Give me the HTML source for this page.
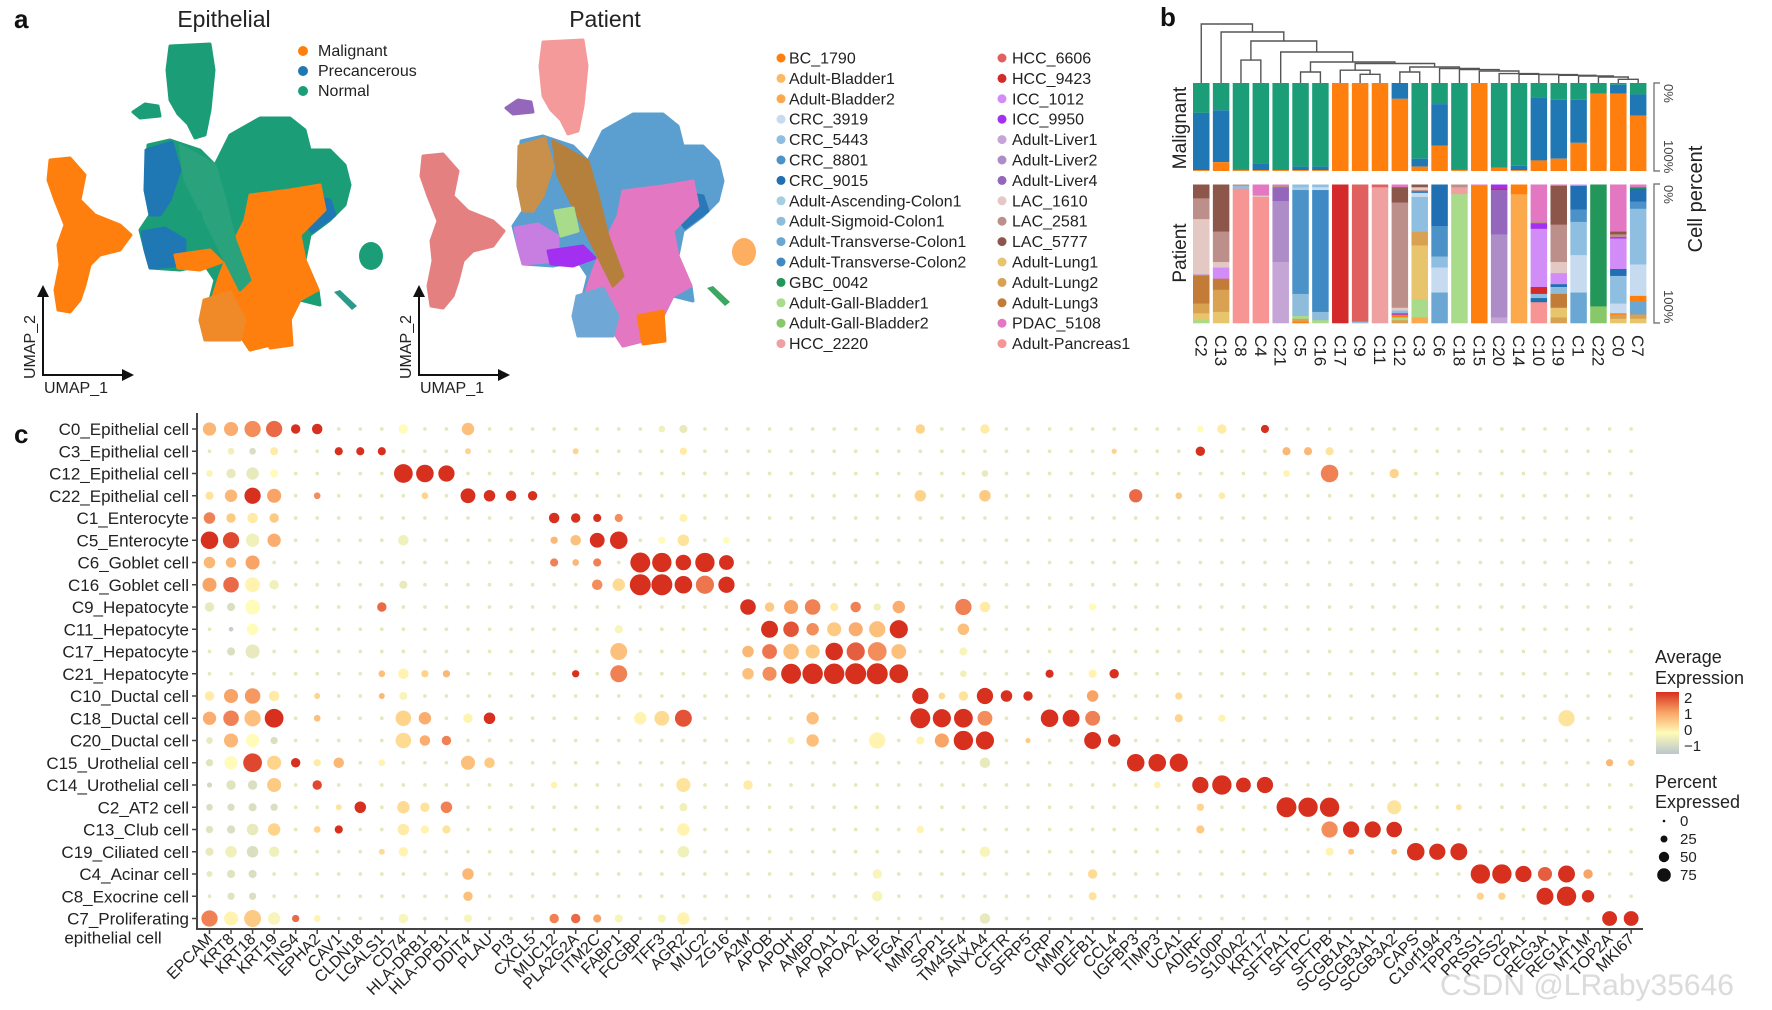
<!DOCTYPE html>
<html><head><meta charset="utf-8">
<style>
html,body{margin:0;padding:0;background:#fff;}
svg{display:block;font-family:"Liberation Sans",Arial,sans-serif;}
</style></head>
<body>
<svg id="fig" width="1772" height="1010" viewBox="0 0 1772 1010" xmlns="http://www.w3.org/2000/svg">
<g id="panelA">
<text x="14" y="28" font-size="26" font-weight="bold" fill="#111">a</text>
<text x="224" y="27" font-size="23" text-anchor="middle" fill="#222">Epithelial</text>
<text x="605" y="27" font-size="23" text-anchor="middle" fill="#222">Patient</text>
<g id="umapE"></g>
<g id="umapP"></g>
<g font-size="16" fill="#222">
<circle cx="303" cy="51" r="5" fill="#ff7f0e"/><text x="318" y="56">Malignant</text>
<circle cx="303" cy="71" r="5" fill="#1f77b4"/><text x="318" y="76">Precancerous</text>
<circle cx="303" cy="91" r="5" fill="#1b9e77"/><text x="318" y="96">Normal</text>
</g>
<g stroke="#111" stroke-width="2" fill="#111">
<line x1="43" y1="375" x2="43" y2="295"/><polygon points="37,297 49,297 43,285" stroke="none"/>
<line x1="42" y1="375" x2="124" y2="375"/><polygon points="122,369 122,381 134,375" stroke="none"/>
</g>
<text transform="translate(35,347) rotate(-90)" font-size="16" text-anchor="middle" fill="#222">UMAP_2</text>
<text x="44" y="393" font-size="16" fill="#222">UMAP_1</text>
<g stroke="#111" stroke-width="2" fill="#111">
<line x1="419" y1="375" x2="419" y2="295"/><polygon points="413,297 425,297 419,285" stroke="none"/>
<line x1="418" y1="375" x2="500" y2="375"/><polygon points="498,369 498,381 510,375" stroke="none"/>
</g>
<text transform="translate(411,347) rotate(-90)" font-size="16" text-anchor="middle" fill="#222">UMAP_2</text>
<text x="420" y="393" font-size="16" fill="#222">UMAP_1</text>
<g id="patLegend" font-size="16" fill="#222"></g>
</g>
<g id="panelB">
<text x="1160" y="26" font-size="26" font-weight="bold" fill="#111">b</text>
<text transform="translate(1186,128) rotate(-90)" font-size="19" text-anchor="middle" fill="#222">Malignant</text>
<text transform="translate(1186,253) rotate(-90)" font-size="19" text-anchor="middle" fill="#222">Patient</text>
<text transform="translate(1702,199) rotate(-90)" font-size="20" text-anchor="middle" fill="#222">Cell percent</text>
<g id="dendro" stroke="#555" stroke-width="1.4" fill="none"></g>
<g id="barsB"></g>
<g stroke="#666" stroke-width="1.2" fill="none">
<path d="M1660,83 H1654 V171 H1660"/><path d="M1660,184 H1654 V323 H1660"/>
</g>
<g font-size="13" fill="#444">
<text transform="translate(1664,84) rotate(90)">0%</text>
<text transform="translate(1664,140) rotate(90)">100%</text>
<text transform="translate(1664,185) rotate(90)">0%</text>
<text transform="translate(1664,290) rotate(90)">100%</text>
</g>
</g>
<g id="panelC">
<text x="14" y="443" font-size="26" font-weight="bold" fill="#111">c</text>
<g id="dots"></g>
<g>
<text x="1655" y="663" font-size="18" fill="#222">Average</text>
<text x="1655" y="684" font-size="18" fill="#222">Expression</text>
<defs><linearGradient id="cg" x1="0" y1="0" x2="0" y2="1">
<stop offset="0" stop-color="#d7301f"/><stop offset="0.33" stop-color="#f9a467"/><stop offset="0.66" stop-color="#fffbb8"/><stop offset="1" stop-color="#b9c6cd"/></linearGradient></defs>
<rect x="1656" y="692" width="23" height="62" fill="url(#cg)"/>
<g font-size="15" fill="#222"><text x="1684" y="703">2</text><text x="1684" y="719">1</text><text x="1684" y="735">0</text><text x="1684" y="751">−1</text></g>
</g>
<g fill="#111">
<text x="1655" y="788" font-size="18" fill="#222">Percent</text>
<text x="1655" y="808" font-size="18" fill="#222">Expressed</text>
<circle cx="1664" cy="821" r="1.3"/><circle cx="1664" cy="839" r="3.5"/><circle cx="1664" cy="857" r="5.2"/><circle cx="1664" cy="875" r="6.8"/>
<g font-size="15" fill="#222"><text x="1680" y="826">0</text><text x="1680" y="844">25</text><text x="1680" y="862">50</text><text x="1680" y="880">75</text></g>
</g>
</g>
<text x="1440" y="995" font-size="30" fill="#ccc" fill-opacity="0.7">CSDN @LRaby35646</text>
</svg>
<script>
// ---------- Panel B data ----------
const clusterOrder = ["C2","C13","C8","C4","C21","C5","C16","C17","C9","C11","C12","C3","C6","C18","C15","C20","C14","C10","C19","C1","C22","C0","C7"];
const statusColors = ["#1b9e77","#1f77b4","#ff7f0e"]; // normal, precancerous, malignant
const normalFrac =     [.34,.31,.98,.92,.99,.95,.95,0,0,0,0,.86,.24,.98,0,.96,.94,.17,.19,.19,.12,.02,.13];
const precancerFrac =  [.65,.59,.01,.07,0,.04,.04,0,0,0,.18,.09,.47,.01,0,0,.05,.71,.67,.49,0,.10,.24];
const malignantFrac =  [.01,.10,.01,.01,.01,.01,.01,1,1,1,.82,.05,.29,.01,1,.04,.01,.12,.14,.32,.88,.88,.63];
const patients = ["BC_1790","Adult-Bladder1","Adult-Bladder2","CRC_3919","CRC_5443","CRC_8801","CRC_9015","Adult-Ascending-Colon1","Adult-Sigmoid-Colon1","Adult-Transverse-Colon1","Adult-Transverse-Colon2","GBC_0042","Adult-Gall-Bladder1","Adult-Gall-Bladder2","HCC_2220",
"HCC_6606","HCC_9423","ICC_1012","ICC_9950","Adult-Liver1","Adult-Liver2","Adult-Liver4","LAC_1610","LAC_2581","LAC_5777","Adult-Lung1","Adult-Lung2","Adult-Lung3","PDAC_5108","Adult-Pancreas1"];
const patientColors = ["#ff7f0e","#fdb863","#fca84d","#c6dbef","#8fbfe0","#4a92c8","#1f6fb2","#a6cee3","#8ebcdb","#6aa8d3","#3f8ac4","#23965a","#a8db8a","#86c86a","#efa0a0",
"#e06060","#d42a2a","#d28cf8","#a330f0","#c5a5d5","#ad8cc8","#9467bd","#e3c8c3","#bc8f8a","#8c564b","#e8c46c","#d9a252","#c27c38","#e377c2","#f79494"];
// per-cluster patient composition, top to bottom: [patientIndex, fraction]
const patientComp = [
 [[24,.1],[23,.15],[22,.4],[20,.01],[27,.2],[26,.07],[25,.05],[12,.02]],
 [[24,.34],[23,.22],[22,.04],[17,.08],[27,.08],[26,.16],[25,.08]],
 [[23,.01],[4,.02],[29,.97]],
 [[28,.08],[22,.01],[29,.91]],
 [[28,.01],[23,.01],[21,.1],[20,.44],[19,.44]],
 [[4,.02],[7,.02],[5,.75],[8,.16],[12,.02],[26,.02],[0,.01]],
 [[4,.02],[3,.02],[10,.88],[8,.06],[12,.02]],
 [[16,1]],
 [[15,.99],[8,.01]],
 [[15,.02],[14,.98]],
 [[28,.02],[24,.11],[23,.76],[22,.02],[4,.02],[18,.01],[0,.02],[12,.02],[26,.02]],
 [[24,.02],[22,.02],[23,.01],[6,.01],[3,.03],[4,.25],[26,.1],[25,.39],[12,.13],[2,.04]],
 [[6,.3],[5,.22],[4,.08],[3,.18],[9,.22]],
 [[23,.02],[14,.05],[12,.93]],
 [[28,.01],[0,.99]],
 [[18,.03],[16,.01],[21,.32],[20,.6],[19,.04]],
 [[0,.07],[2,.93]],
 [[28,.27],[23,.01],[18,.04],[17,.42],[16,.05],[4,.03],[6,.03],[29,.15]],
 [[28,.01],[24,.28],[23,.27],[22,.08],[17,.08],[6,.02],[8,.05],[27,.1],[25,.07],[26,.04]],
 [[17,.01],[6,.17],[5,.09],[4,.24],[3,.27],[9,.22]],
 [[11,.88],[13,.12]],
 [[28,.34],[24,.02],[23,.02],[18,.01],[17,.22],[6,.05],[4,.2],[3,.07],[0,.01],[26,.03],[25,.03]],
 [[28,.02],[11,.01],[6,.09],[5,.05],[4,.39],[3,.22],[0,.04],[9,.09],[26,.03],[25,.03]]
];
// dendrogram merges: [leftNode, rightNode, height]; leaves are 0..22
const dendroMerges = [[5,6,11],[8,9,8.7],[7,24,12.8],[10,11,11],[2,3,22.9],[21,22,3.7],[20,28,6],[19,29,7],[18,30,7.7],[17,31,8.4],[16,32,8.7],[15,33,9.4],[14,34,12],[13,35,13.4],[12,36,14.5],[26,37,16],[25,38,19.5],[23,39,21],[4,40,31],[27,41,42],[1,42,51],[0,43,59]];

// ---------- Panel C data ----------
const cellTypes = ["C0_Epithelial cell","C3_Epithelial cell","C12_Epithelial cell","C22_Epithelial cell","C1_Enterocyte","C5_Enterocyte","C6_Goblet cell","C16_Goblet cell","C9_Hepatocyte","C11_Hepatocyte","C17_Hepatocyte","C21_Hepatocyte","C10_Ductal cell","C18_Ductal cell","C20_Ductal cell","C15_Urothelial cell","C14_Urothelial cell","C2_AT2 cell","C13_Club cell","C19_Ciliated cell","C4_Acinar cell","C8_Exocrine cell","C7_Proliferating"];
const genes = ["EPCAM","KRT8","KRT18","KRT19","TNS4","EPHA2","CAV1","CLDN18","LGALS1","CD74","HLA-DRB1","HLA-DPB1","DDIT4","PLAU","PI3","CXCL5","MUC12","PLA2G2A","ITM2C","FABP1","FCGBP","TFF3","AGR2","MUC2","ZG16","A2M","APOB","APOH","AMBP","APOA1","APOA2","ALB","FGA","MMP7","SPP1","TM4SF4","ANXA4","CFTR","SFRP5","CRP","MMP1","DEFB1","CCL4","IGFBP3","TIMP3","UCA1","ADIRF","S100P","S100A2","KRT17","SFTPA1","SFTPC","SFTPB","SCGB1A1","SCGB3A1","SCGB3A2","CAPS","C1orf194","TPPP3","PRSS1","PRSS2","CPA1","REG3A","REG1A","MT1M","TOP2A","MKI67"];
const baseExpr = 0.1, basePct = 3;
// notable dots: [rowIndex, geneIndex, avgExpression, percentExpressed]
const dotValues = [
[0,0,.8,40],[0,1,.9,45],[0,2,1.2,60],[0,3,1.5,60],[0,4,2,20],[0,5,2,25],[0,9,0,20],[0,12,.7,35],[0,21,-.2,10],[0,22,-.3,15],[0,33,.5,20],[0,36,.2,20],[0,46,0,10],[0,47,.2,20],[0,49,2,15],
[1,1,-.2,10],[1,2,-.5,10],[1,3,.2,15],[1,6,2,15],[1,7,2,15],[1,8,2,15],[1,12,.5,8],[1,17,.5,8],[1,22,.2,12],[1,42,.5,6],[1,46,2,20],[1,50,.8,15],[1,51,.8,15],[1,52,.3,15],
[2,0,-.1,10],[2,1,-.3,20],[2,2,-.3,35],[2,3,0,15],[2,9,2,80],[2,10,2,70],[2,11,2,60],[2,36,-.3,10],[2,50,.1,10],[2,52,1.3,70],[2,55,.5,20],
[3,0,.3,15],[3,1,.8,35],[3,2,2,60],[3,3,1,45],[3,5,1.2,10],[3,10,.5,10],[3,12,2,50],[3,13,2,30],[3,14,2,25],[3,15,2,20],[3,33,.5,30],[3,36,.6,30],[3,43,1.5,40],[3,45,.6,10],[3,47,.2,10],
[4,0,1.3,30],[4,1,.6,20],[4,2,.2,25],[4,3,.6,20],[4,16,2,25],[4,17,2,20],[4,18,2,15],[4,19,1.2,15],[4,22,.1,15],
[5,0,2,70],[5,1,1.8,60],[5,2,-.2,40],[5,3,.9,40],[5,9,-.2,25],[5,16,.8,12],[5,17,.7,25],[5,18,2,50],[5,19,2,70],[5,21,0,12],[5,22,.3,30],[5,24,0,10],
[6,0,.8,30],[6,1,.8,25],[6,2,1,45],[6,16,1.3,15],[6,17,.8,10],[6,18,1.3,15],[6,20,2,90],[6,21,2,85],[6,22,2,55],[6,23,2,85],[6,24,2,50],
[7,0,1,45],[7,1,1.5,55],[7,2,.1,50],[7,3,-.2,20],[7,9,-.3,15],[7,18,1.2,25],[7,19,.4,35],[7,20,2,100],[7,21,2,100],[7,22,2,70],[7,23,1.4,75],[7,24,2,60],
[8,0,-.3,20],[8,1,-.5,15],[8,2,0,50],[8,8,1.5,20],[8,25,2,55],[8,26,.6,20],[8,27,1,45],[8,28,1.3,55],[8,29,.2,15],[8,30,1.3,25],[8,31,-.2,12],[8,32,.9,35],[8,35,1.3,60],[8,36,.2,25],[8,41,0,12],
[9,1,-.8,5],[9,2,0,30],[9,19,-.1,15],[9,26,2,65],[9,27,1.7,55],[9,28,1.2,35],[9,29,.6,45],[9,30,.9,45],[9,31,.7,60],[9,32,2,75],[9,35,.7,30],
[10,1,-.5,15],[10,2,-.3,45],[10,19,.7,65],[10,25,.8,30],[10,26,1.4,50],[10,27,.7,55],[10,28,.6,45],[10,29,2,70],[10,30,1.6,75],[10,31,1.2,80],[10,32,.7,50],[10,35,-.1,15],
[11,8,.7,10],[11,9,.1,25],[11,10,.5,12],[11,11,.8,12],[11,17,2,12],[11,19,1.3,65],[11,25,.7,30],[11,26,1.2,45],[11,27,2,90],[11,28,2,95],[11,29,2,95],[11,30,2,100],[11,31,2,100],[11,32,2,80],[11,35,-.2,10],[11,39,2,15],[11,41,.1,15],[11,42,2,20],
[12,0,.2,20],[12,1,1,45],[12,2,1.1,55],[12,3,.2,25],[12,5,.5,8],[12,8,.8,8],[12,9,-.1,15],[12,33,2,60],[12,34,.4,10],[12,35,.3,20],[12,36,2,60],[12,37,2,30],[12,38,2,20],[12,41,1,30],[12,45,.4,12],
[13,0,.9,40],[13,1,1.3,55],[13,2,.7,60],[13,3,2,80],[13,5,.7,10],[13,9,.5,55],[13,10,.9,35],[13,12,.1,20],[13,13,2,30],[13,20,.1,35],[13,21,.4,50],[13,22,1.7,65],[13,28,.7,35],[13,33,2,90],[13,34,2,75],[13,35,2,80],[13,36,1.2,50],[13,39,2,70],[13,40,2,65],[13,41,1.3,50],[13,45,.5,15],[13,47,.1,12],[13,63,.3,60],
[14,0,-.3,10],[14,1,.8,45],[14,2,0,40],[14,3,-.5,12],[14,9,.4,55],[14,10,.9,25],[14,11,1.3,20],[14,27,-.1,12],[14,28,.7,35],[14,31,.1,60],[14,33,.1,15],[14,34,1,45],[14,35,2,85],[14,36,2,75],[14,38,.6,6],[14,41,2,65],[14,42,2,35],
[15,0,-.4,12],[15,1,0,40],[15,2,1.8,80],[15,3,.5,45],[15,4,2,20],[15,5,.2,12],[15,6,.8,25],[15,8,.1,10],[15,12,.7,45],[15,13,.6,25],[15,36,-.3,25],[15,43,2,70],[15,44,2,70],[15,45,2,75],[15,65,.8,12],[15,66,.5,10],
[16,0,-.6,6],[16,1,-.4,20],[16,2,-.5,20],[16,3,.6,45],[16,5,1.8,20],[16,16,.1,10],[16,22,.3,45],[16,25,.2,20],[16,44,.1,10],[16,46,2,60],[16,47,2,85],[16,48,2,50],[16,49,2,60],
[17,0,-.5,10],[17,1,-.5,12],[17,2,-.5,15],[17,3,-.5,12],[17,6,.3,8],[17,7,2,30],[17,9,.4,35],[17,10,.3,20],[17,11,1.3,30],[17,22,-.2,15],[17,46,.5,12],[17,50,2,90],[17,51,2,85],[17,52,2,85],[17,55,.3,45],[17,58,.3,8],
[18,0,-.4,12],[18,1,-.5,15],[18,2,-.3,30],[18,3,.5,35],[18,5,.5,10],[18,6,2,15],[18,9,.2,30],[18,10,.1,15],[18,11,.3,15],[18,22,.1,35],[18,33,.1,12],[18,46,.6,15],[18,52,1.2,60],[18,53,2,60],[18,54,2,60],[18,55,2,55],
[19,0,-.3,15],[19,1,-.2,30],[19,2,-.5,30],[19,3,-.2,25],[19,8,.4,8],[19,9,.1,20],[19,22,-.2,30],[19,36,-.1,25],[19,52,.1,15],[19,53,.6,8],[19,55,.6,8],[19,56,2,70],[19,57,2,60],[19,58,2,65],
[20,0,-.3,8],[20,1,-.4,15],[20,2,-.5,15],[20,12,.8,30],[20,31,-.1,20],[20,41,.4,20],[20,59,2,85],[20,60,2,85],[20,61,2,60],[20,62,1.6,45],[20,63,2,65],[20,64,1,20],
[21,1,-.4,12],[21,2,-.5,12],[21,12,.7,20],[21,31,-.1,25],[21,41,.3,15],[21,59,.5,12],[21,60,.5,12],[21,62,2,65],[21,63,2,85],[21,64,2,35],
[22,0,1.3,60],[22,1,.1,45],[22,2,.6,65],[22,3,-.1,35],[22,4,1.5,12],[22,5,.1,10],[22,9,-.1,20],[22,12,-.1,15],[22,16,1.3,20],[22,17,1.5,20],[22,18,1,15],[22,19,-.1,15],[22,21,-.1,15],[22,22,.1,35],[22,36,-.3,25],[22,65,2,50],[22,66,2,50]
];

const NS="http://www.w3.org/2000/svg";
function mk(tag, attrs, parent){const e=document.createElementNS(NS,tag);for(const k in attrs)e.setAttribute(k,attrs[k]);parent.appendChild(e);return e;}

// ---------- UMAP shapes (decorative blobs) ----------
const umapShapes = [
 {pts:"170,46 210,44 214,70 210,110 205,135 195,138 188,124 178,114 170,100 167,70", e:"#1b9e77", p:"#f49a9a"},
 {pts:"133,112 145,104 158,106 160,116 140,118", e:"#1b9e77", p:"#9467bd"},
 {pts:"50,160 70,158 85,175 80,200 95,215 120,225 131,235 120,250 100,255 90,265 85,285 80,300 70,312 58,310 55,290 60,265 58,245 65,225 55,200 48,180", e:"#ff7f0e", p:"#e58080"},
 {pts:"148,145 170,140 200,150 215,165 230,135 260,118 290,118 305,130 310,150 330,150 345,165 350,185 345,205 330,220 310,235 305,260 318,290 320,305 300,300 290,320 270,345 250,350 240,335 205,340 200,320 210,300 215,280 205,265 180,270 150,268 145,250 140,230 150,215 145,190", e:"#1b9e77", p:"#5a9fd0"},
 {pts:"146,150 172,142 180,170 170,200 160,215 150,215 145,190", e:"#1f77b4", p:"#c8904a"},
 {pts:"142,232 165,228 185,240 185,265 150,268 145,250", e:"#1f77b4", p:"#c77ee0"},
 {pts:"300,195 330,200 335,215 312,232 300,215", e:"#1f77b4", p:"#2a78b8"},
 {pts:"250,195 290,190 320,185 325,210 300,235 305,260 318,290 300,300 290,320 270,345 250,350 240,335 212,338 204,320 212,300 220,275 230,250 245,220", e:"#ff7f0e", p:"#e377c2"},
 {pts:"175,255 210,250 222,262 200,270 178,268", e:"#ff7f0e", p:"#a330f0"},
 {pts:"204,300 230,292 245,320 240,340 205,340 200,320", e:"#f08a28", p:"#6fa8d6"},
 {pts:"180,145 215,165 225,200 235,240 250,280 240,290 220,250 200,210 185,180", e:"#2aa37c", p:"#b5803c"},
 {pts:"182,215 200,212 205,235 188,240", e:"#1b9e77", p:"#a8db8a"},
 {pts:"265,320 290,315 292,345 270,348", e:"#ff7f0e", p:"#ff7f0e"}
];
function drawUmap(g, dx, dy, key){
 umapShapes.forEach((s,i)=>{
  const poly=mk("polygon",{points:s.pts,fill:s[key],transform:`translate(${dx},${dy})`,"stroke":s[key],"stroke-width":"3","stroke-linejoin":"round"},g);
  
  
 });
 const c1=mk("ellipse",{cx:371+dx,cy:256+dy,rx:12,ry:14,fill:key==="e"?"#1b9e77":"#fdae61"},g);
 
 
 const c2=mk("polygon",{points:`${334+dx},${292+dy} ${340+dx},${290+dy} ${357+dx},${306+dy} ${352+dx},${310+dy}`,fill:key==="e"?"#2a9a8a":"#3aa860"},g);
 
 
}
drawUmap(document.getElementById("umapE"),0,0,"e");
drawUmap(document.getElementById("umapP"),373,-4,"p");

// patient legend
const pl=document.getElementById("patLegend");
patients.forEach((p,i)=>{
 const col=Math.floor(i/15), r=i%15;
 const cx = col===0?781:1002, tx = col===0?789:1012, y=58+r*20.4;
 const d=mk("circle",{cx:cx,cy:y,r:4.5,fill:patientColors[i]},pl);
 
 
 const t=mk("text",{x:tx,y:y+5.5},pl); t.textContent=p;
 
 
});

// ---------- Panel B ----------
const barX0=1193, barPitch=19.86, barW=16.5;
const malTop=83, malH=88, patTop=184.5, patH=138.5;
function barX(i){return barX0+i*barPitch;}
const gb=document.getElementById("barsB");
clusterOrder.forEach((c,i)=>{
 let y=malTop;
 const fr=[normalFrac[i],precancerFrac[i],malignantFrac[i]];
 const tot=fr[0]+fr[1]+fr[2];
 fr.forEach((f,k)=>{ if(f<=0)return; const h=f/tot*malH;
  const r=mk("rect",{x:barX(i),y:y,width:barW,height:h,fill:statusColors[k]},gb);
  
  
  y+=h;});
 const comp=patientComp[i]; const t2=comp.reduce((a,b)=>a+b[1],0);
 y=patTop;
 comp.forEach(([pi,f])=>{const h=f/t2*patH;
  const r=mk("rect",{x:barX(i),y:y,width:barW,height:h+0.3,fill:patientColors[pi]},gb);
  
  
  y+=h;});
 const t=mk("text",{transform:`translate(${barX(i)+barW/2-6},335) rotate(90)`,"font-size":"17",fill:"#222"},gb);
 t.textContent=c;
 
 
});
// dendrogram
const dg=document.getElementById("dendro");
const nodeX=clusterOrder.map((c,i)=>barX(i)+barW/2), nodeY=clusterOrder.map(()=>malTop);
dendroMerges.forEach(([a,b,h])=>{
 const y=malTop-h; const xa=nodeX[a], xb=nodeX[b];
 const p=mk("path",{d:`M${xa},${nodeY[a]} V${y} H${xb} V${nodeY[b]}`},dg);
 
 
 nodeX.push((xa+xb)/2); nodeY.push(y);
});

// ---------- Panel C ----------
const x0=209.5, dxG=21.54, y0=429, dyR=22.25;
function xG(j){return x0+j*dxG;}
function yR(i){return y0+i*dyR;}
function rP(p){return Math.max(1.3, 10.5*Math.sqrt(p/100));}
const stops=[[-1,[185,198,205]],[-0.4,[224,228,190]],[0,[255,251,184]],[0.5,[254,211,138]],[1,[249,164,103]],[1.5,[234,106,72]],[2,[215,48,31]]];
function cE(e,p){
 e=Math.max(-1,Math.min(2,e));
 let i=0; while(i<stops.length-2 && e>stops[i+1][0]) i++;
 const [a,ca]=stops[i],[b,cb]=stops[i+1]; const t=(e-a)/(b-a);
 let c=ca.map((v,k)=>Math.round(v+(cb[k]-v)*t));
 if(p<=basePct) c=[228,233,188];
 return `rgb(${c.join(",")})`;
}
const gd=document.getElementById("dots");
const ax=mk("path",{d:`M197,413 V929 H1643`,stroke:"#444","stroke-width":"2",fill:"none"},gd);


const grid=cellTypes.map(()=>genes.map(()=>[baseExpr,basePct]));
dotValues.forEach(([r,g,e,p])=>{grid[r][g]=[e,p];});
cellTypes.forEach((ct,i)=>{
 const t=mk("text",{x:189,y:yR(i)+6,"text-anchor":"end","font-size":"17",fill:"#222"},gd);
 t.textContent=ct;
 
 
 const tk=mk("line",{x1:192,x2:197,y1:yR(i),y2:yR(i),stroke:"#444","stroke-width":"1.5"},gd);
 
 
 genes.forEach((g,j)=>{
  const [e,p]=grid[i][j];
  const c=mk("circle",{cx:xG(j),cy:yR(i),r:rP(p),fill:cE(e,p)},gd);
  
  
 });
});
const t2=mk("text",{x:113,y:yR(22)+25,"text-anchor":"middle","font-size":"17",fill:"#222"},gd);
t2.textContent="epithelial cell";


genes.forEach((g,j)=>{
 const tk=mk("line",{x1:xG(j),x2:xG(j),y1:929,y2:934,stroke:"#444","stroke-width":"1.5"},gd);
 
 
 const t=mk("text",{transform:`translate(${xG(j)+4},940) rotate(-45)`,"text-anchor":"end","font-size":"16",fill:"#222"},gd);
 t.textContent=g;
 
 
});
</script>
</body></html>
